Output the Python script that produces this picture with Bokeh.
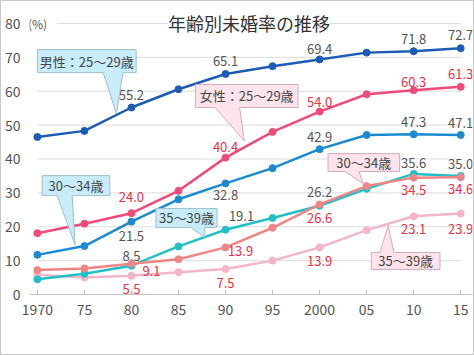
from bokeh.plotting import figure
from bokeh.models import Label, FixedTicker, ColumnDataSource
from bokeh.embed import file_html
from bokeh.resources import INLINE
from bokeh.core.properties import value

# ---------------- data ----------------
years = [1970, 1975, 1980, 1985, 1990, 1995, 2000, 2005, 2010, 2015]
year_labels = ["1970", "75", "80", "85", "90", "95", "2000", "05", "10", "15"]
male_25_29 = [46.5, 48.3, 55.2, 60.6, 65.1, 67.4, 69.4, 71.4, 71.8, 72.7]
female_25_29 = [18.1, 20.9, 24.0, 30.6, 40.4, 48.0, 54.0, 59.1, 60.3, 61.3]
male_30_34 = [11.7, 14.3, 21.5, 28.1, 32.8, 37.3, 42.9, 47.1, 47.3, 47.1]
female_30_34 = [7.2, 7.7, 9.1, 10.4, 13.9, 19.7, 26.6, 32.0, 34.5, 34.6]
male_35_39 = [4.5, 6.1, 8.5, 14.2, 19.1, 22.6, 26.2, 31.2, 35.6, 35.0]
female_35_39 = [5.8, 5.0, 5.5, 6.6, 7.5, 10.0, 13.9, 19.0, 23.1, 23.9]
y_ticks = [0, 10, 20, 30, 40, 50, 60, 70, 80]
labeled_idx = [2, 4, 6, 8, 9]

title_text = "年齢別未婚率の推移"
source_text = "出典：総務省統計局「平成27年国勢調査」(2015)"

FONT = "Noto Sans CJK JP"
MALE_TXT = "#555555"
FEMALE_TXT = "#e8304a"

# series: (values, color, label color, label offsets (dx, dy) in screen px, +dy = down)
series = [
    (female_35_39, "#f5b5c8", FEMALE_TXT, [(0, 13), (0, 14), (0, 14), (0, 13), (0, 15)]),
    (male_35_39, "#22c0c6", MALE_TXT, [(0, -10), (16, -14), (0, -14), (0, -11), (0, -12)]),
    (female_30_34, "#f08585", FEMALE_TXT, [(20, 7), (15, 4), (0, 14), (0, 12), (0, 12)]),
    (male_30_34, "#1b8ad0", MALE_TXT, [(0, 14), (0, 12), (0, -12), (0, -12), (0, -12)]),
    (female_25_29, "#f04a7c", FEMALE_TXT, [(0, -16), (0, -11), (0, -10), (0, -8), (0, -13)]),
    (male_25_29, "#1c5cb8", MALE_TXT, [(0, -13), (0, -13), (0, -10), (0, -12), (0, -13)]),
]

x_start = 1970 - 8 / 9.534
x_end = x_start + 449 / 9.534
y_end = 80 + 12 / 3.39

p = figure(width=474, height=355, output_backend="svg", toolbar_location=None,
           x_range=(x_start, x_end), y_range=(0, y_end),
           min_border_left=22, min_border_right=3, min_border_top=10, min_border_bottom=62)
p.outline_line_color = None
p.xgrid.visible = False
p.ygrid.visible = False
p.background_fill_color = "white"
p.border_fill_color = "white"
p.styles = {"border": "1px solid #c8c8c8", "box-sizing": "border-box"}

# axes
p.xaxis.ticker = FixedTicker(ticks=years)
p.xaxis.major_label_overrides = {y: l for y, l in zip(years, year_labels)}
p.xaxis.axis_line_color = "#c4c4c4"
p.xaxis.major_tick_line_color = "#c4c4c4"
p.xaxis.major_tick_in = 5
p.xaxis.major_tick_out = 0
p.xaxis.minor_tick_line_color = None
p.xaxis.major_label_standoff = 9
p.xaxis.major_label_text_font = FONT
p.xaxis.major_label_text_font_size = "14px"
p.xaxis.major_label_text_color = "#555555"

p.yaxis.ticker = FixedTicker(ticks=y_ticks)
p.yaxis.axis_line_color = None
p.yaxis.major_tick_line_color = None
p.yaxis.minor_tick_line_color = None
p.yaxis.major_label_standoff = 3
p.yaxis.major_label_text_font = FONT
p.yaxis.major_label_text_font_size = "14px"
p.yaxis.major_label_text_color = "#555555"

# grid lines
grid_levels = [v for v in y_ticks if v > 0]
p.segment(x0=[1972.1 if v == 80 else 1970 for v in grid_levels], x1=[2015] * len(grid_levels),
          y0=grid_levels, y1=grid_levels, line_color="#dcdcdc", line_width=1)

# title (over the 80 grid line)
p.add_layout(Label(x=1992.5, y=80, text=title_text, text_align="center", text_baseline="middle",
                   text_font=FONT, text_font_size="18px", text_color="#333333",
                   background_fill_color="white"))
p.add_layout(Label(x=1969.0, y=80, text="(%)", text_align="left", text_baseline="middle",
                   text_font=FONT, text_font_size="12px", text_color="#555555"))
p.add_layout(Label(x=2015, y=-2.7, text="(年)", text_align="center", text_baseline="middle",
                   text_font=FONT, text_font_size="12px", text_color="#555555"))
p.add_layout(Label(x=1970, y=-13.6, text=source_text, text_align="left", text_baseline="middle",
                   text_font=FONT, text_font_size="13.5px", text_color="#444444"))

# callouts
def callout(x0, x1, yb, yt, bx0, bx1, tx, ty, side, fill, line, text):
    if side == "bottom":
        xs = [x0, bx0, tx, bx1, x1, x1, x0]
        ys = [yb, yb, ty, yb, yb, yt, yt]
    else:
        xs = [x0, x1, x1, bx1, tx, bx0, x0]
        ys = [yb, yb, yt, yt, ty, yt, yt]
    p.patch(xs, ys, fill_color=fill, line_color=line, line_width=1)
    p.add_layout(Label(x=(x0 + x1) / 2, y=(yb + yt) / 2, text=text, text_align="center",
                       text_baseline="middle", text_font=FONT, text_font_size="13px",
                       text_color="#444444"))

BLUE_FILL, BLUE_LINE = "#c8ecf8", "#9fbfcc"
PINK_FILL, PINK_LINE = "#fde4ec", "#d8aabb"

# series lines / markers / labels
for vals, color, tcolor, offs in series:
    p.line(years, vals, line_color=color, line_width=2.5)
    p.scatter(years, vals, size=7, fill_color=color, line_color=color)
    src = ColumnDataSource(dict(
        x=[years[i] for i in labeled_idx],
        y=[vals[i] for i in labeled_idx],
        t=["%.1f" % vals[i] for i in labeled_idx],
        dx=[o[0] for o in offs],
        dy=[o[1] for o in offs],
    ))
    p.text(x="x", y="y", text="t", x_offset="dx", y_offset="dy", source=src,
           text_align="center", text_baseline="middle", text_font=value(FONT),
           text_font_size="13px", text_color=tcolor)

callout(1970.0, 1980.5, 65.5, 72.3, 1977.0, 1979.1, 1978.4, 53.3, "bottom", BLUE_FILL, BLUE_LINE, "男性：25～29歳")
callout(1986.8, 1997.7, 55.2, 62.0, 1988.9, 1991.5, 1992.0, 45.3, "bottom", PINK_FILL, PINK_LINE, "女性：25～29歳")
callout(1970.5, 1977.7, 29.2, 35.1, 1972.1, 1973.7, 1974.0, 14.7, "bottom", BLUE_FILL, BLUE_LINE, "30～34歳")
callout(1982.6, 1989.1, 19.8, 25.4, 1986.3, 1987.8, 1987.8, 16.9, "bottom", BLUE_FILL, BLUE_LINE, "35～39歳")
callout(2000.9, 2008.5, 36.3, 41.6, 2002.7, 2004.2, 2004.6, 32.8, "bottom", PINK_FILL, PINK_LINE, "30～34歳")
callout(2005.5, 2012.8, 7.4, 12.4, 2006.4, 2007.9, 2007.3, 20.4, "top", PINK_FILL, PINK_LINE, "35～39歳")

open("out.html", "w").write(file_html(p, INLINE))
